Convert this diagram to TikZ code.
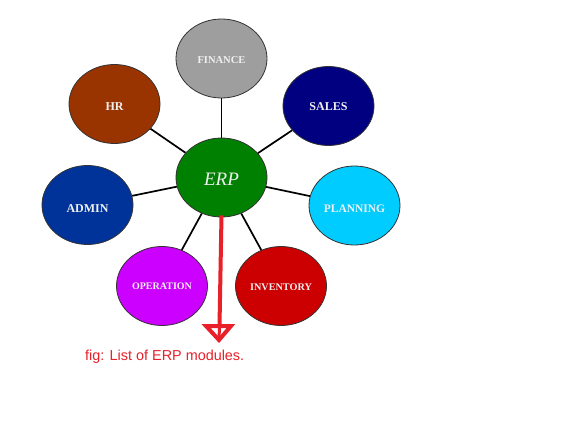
\documentclass[tikz,border=0pt]{standalone}
\usepackage{fontspec}
\setmainfont{Liberation Serif}
\newfontfamily\capfont{Liberation Sans}
\usetikzlibrary{shapes.geometric}
\definecolor{cfin}{RGB}{158,158,158}
\definecolor{csal}{RGB}{0,0,128}
\definecolor{chr}{RGB}{153,51,0}
\definecolor{cadm}{RGB}{0,51,153}
\definecolor{cpla}{RGB}{0,204,255}
\definecolor{cinv}{RGB}{204,0,0}
\definecolor{cope}{RGB}{204,0,255}
\definecolor{cerp}{RGB}{0,128,0}
\definecolor{cred}{RGB}{232,32,42}
\definecolor{ctxt}{RGB}{240,240,240}
% size, downward offset of baseline from centre, text
\newcommand\lab[3]{\raisebox{-#2pt}[0pt][0pt]{\makebox[0pt]{\fontsize{#1}{#1}\selectfont #3}}}
\tikzset{
  module/.style={ellipse, draw=black!80, line width=0.8pt, minimum width=91pt, minimum height=79pt,
    inner sep=0pt, text=ctxt, font=\bfseries},
  link/.style={draw=black, line width=1.7pt},
  redline/.style={draw=cred, line width=4pt},
}
\begin{document}
\begin{tikzpicture}[x=1pt, y=-1pt]
\useasboundingbox[fill=white] (0,0) rectangle (579,441);
\node[module, fill=cfin] (fin) at (221.5,58.5) {\lab{10.5}{5.3}{FINANCE}};
\node[module, fill=csal] (sal) at (328.5,106) {\lab{12}{4.7}{SALES}};
\node[module, fill=chr] (hr) at (114.5,104) {\lab{12}{7.0}{HR}};
\node[module, fill=cadm] (adm) at (87.5,205) {\lab{12}{7.8}{ADMIN}};
\node[module, fill=cpla] (pla) at (354.5,205.5) {\lab{11.5}{7.1}{PLANNING}};
\node[module, fill=cope] (ope) at (162,286) {\lab{10}{4.0}{OPERATION}};
\node[module, fill=cinv] (inv) at (281,286) {\lab{10.2}{4.1}{INVENTORY}};
\node[module, fill=cerp, font=\mdseries\itshape] (erp) at (221.5,177.5) {\lab{19}{8.3}{ERP}};
\foreach \m in {fin,sal,hr,adm,pla,ope,inv}
  \draw[link] (erp) -- (\m);
\coordinate (shaftend) at (219.5,326);
\draw[redline] ([yshift=2pt]erp.south) -- (shaftend);
\coordinate (tl) at (206,326);
\coordinate (tr) at (231,326);
\coordinate (tip) at (219,340);
\draw[redline, line join=miter, fill=white] (tl) -- (tr) -- (tip) -- cycle;
\draw[redline, line width=3pt] (shaftend) -- (tip);
\node[anchor=base west, inner sep=0pt, text=cred, font=\capfont\fontsize{14.4}{16}\selectfont] (cap) at (85,360) {fig: List of ERP modules.};
\end{tikzpicture}
\end{document}
